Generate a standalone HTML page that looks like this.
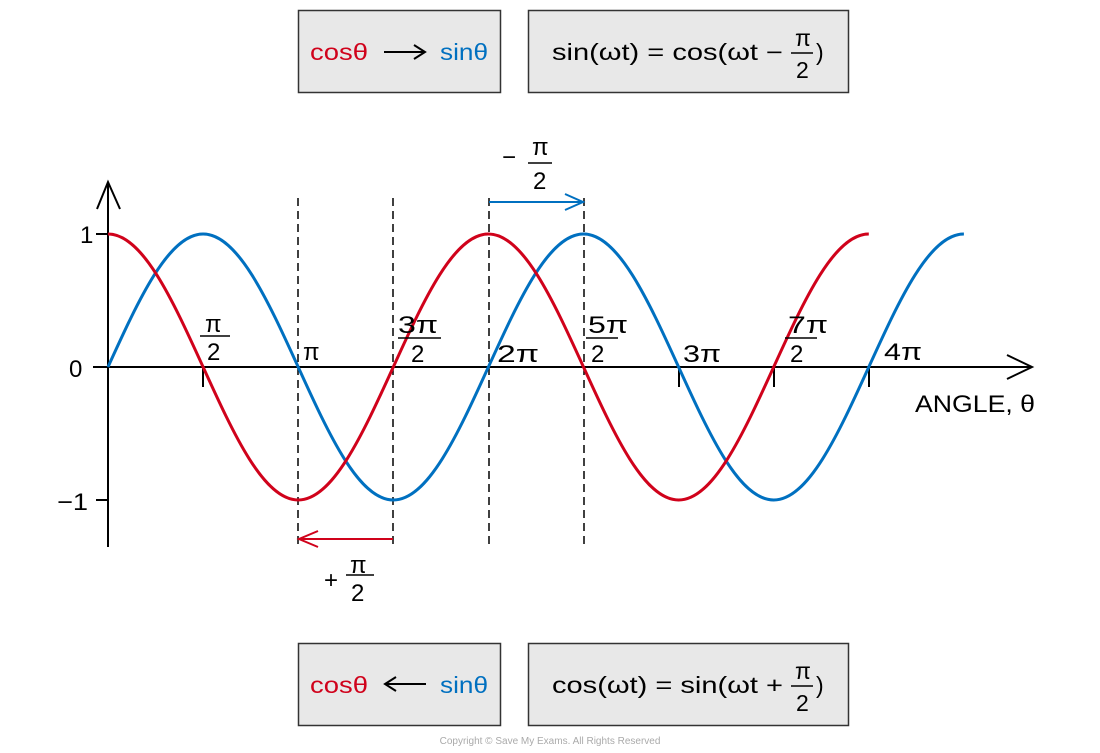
<!DOCTYPE html>
<html><head><meta charset="utf-8"><style>
body{margin:0;background:#fff}
svg{display:block;font-family:"Liberation Sans","DejaVu Sans",sans-serif}
</style></head><body>
<svg width="1100" height="753" viewBox="0 0 1100 753" xmlns="http://www.w3.org/2000/svg">
<g fill="#e8e8e8" stroke="#333" stroke-width="1.5">
<rect x="298.5" y="10.5" width="202" height="82"/>
<rect x="528.5" y="10.5" width="320" height="82"/>
<rect x="298.5" y="643.5" width="202" height="82"/>
<rect x="528.5" y="643.5" width="320" height="82"/>
</g>
<g font-size="23">
<text x="310" y="60" fill="#d0021b" textLength="58" lengthAdjust="spacingAndGlyphs">cosθ</text>
<text x="440" y="60" fill="#0070c0" textLength="48" lengthAdjust="spacingAndGlyphs">sinθ</text>
<line x1="384" y1="52" x2="424" y2="52" stroke="#000" stroke-width="2"/>
<path d="M414,45 L425,52 L414,59" fill="none" stroke="#000" stroke-width="2"/>
<text x="552" y="60" fill="#000" textLength="231" lengthAdjust="spacingAndGlyphs">sin(ωt) = cos(ωt −</text>
<text x="816" y="60" fill="#000">)</text>
<text x="795" y="46" fill="#000">π</text>
<line x1="791" y1="53" x2="813" y2="53" stroke="#000" stroke-width="1.5"/>
<text x="796" y="78" fill="#000">2</text>

<text x="310" y="693" fill="#d0021b" textLength="58" lengthAdjust="spacingAndGlyphs">cosθ</text>
<text x="440" y="693" fill="#0070c0" textLength="48" lengthAdjust="spacingAndGlyphs">sinθ</text>
<line x1="386" y1="684" x2="426" y2="684" stroke="#000" stroke-width="2"/>
<path d="M396,677 L385,684 L396,691" fill="none" stroke="#000" stroke-width="2"/>
<text x="552" y="693" fill="#000" textLength="231" lengthAdjust="spacingAndGlyphs">cos(ωt) = sin(ωt +</text>
<text x="816" y="693" fill="#000">)</text>
<text x="795" y="679" fill="#000">π</text>
<line x1="791" y1="686" x2="813" y2="686" stroke="#000" stroke-width="1.5"/>
<text x="796" y="711" fill="#000">2</text>
</g>
<g stroke="#000" stroke-width="2" fill="none">
<line x1="108" y1="182" x2="108" y2="547"/>
<path d="M97,209 L108,182 L120,209"/>
<line x1="93" y1="367" x2="1032" y2="367"/>
<path d="M1007,355 L1032,367 L1007,379"/>
<line x1="96" y1="234" x2="108" y2="234"/>
<line x1="96" y1="500" x2="108" y2="500"/>
<line x1="203" y1="367" x2="203" y2="387"/>
<line x1="679" y1="367" x2="679" y2="387"/>
<line x1="774" y1="367" x2="774" y2="387"/>
<line x1="869" y1="367" x2="869" y2="387"/>
</g>
<g stroke="#000" stroke-width="1.5" stroke-dasharray="8,5">
<line x1="298" y1="198" x2="298" y2="545"/>
<line x1="393" y1="198" x2="393" y2="545"/>
<line x1="489" y1="198" x2="489" y2="545"/>
<line x1="584" y1="198" x2="584" y2="545"/>
</g>
<path fill="none" stroke="#0070c0" stroke-width="3" d="M108,367 c31,-68.1 60.7,-133 95.1,-133 c34.4,0 64.1,64.9 95.1,133 c31,68.1 60.7,133 95.1,133 c34.4,0 64.1,-64.9 95.1,-133 c31,-68.1 60.7,-133 95.1,-133 c34.4,0 64.1,64.9 95.1,133 c31,68.1 60.7,133 95.1,133 c34.4,0 64.1,-64.9 95.1,-133 c31,-68.1 60.7,-133 95.1,-133"/>
<path fill="none" stroke="#d0021b" stroke-width="3" d="M108,234 c34.4,0 64.1,64.9 95.1,133 c31,68.1 60.7,133 95.1,133 c34.4,0 64.1,-64.9 95.1,-133 c31,-68.1 60.7,-133 95.1,-133 c34.4,0 64.1,64.9 95.1,133 c31,68.1 60.7,133 95.1,133 c34.4,0 64.1,-64.9 95.1,-133 c31,-68.1 60.7,-133 95.1,-133"/>
<g stroke="#d0021b" stroke-width="2" fill="none">
<line x1="298" y1="539" x2="393" y2="539"/>
<path d="M318,531 L299,539 L318,547"/>
</g>
<g stroke="#0070c0" stroke-width="2" fill="none">
<line x1="489" y1="202" x2="584" y2="202"/>
<path d="M565,194 L583,202 L565,210"/>
</g>
<g font-size="24" fill="#000">
<text x="80" y="243">1</text>
<text x="69" y="377">0</text>
<text x="57" y="510" textLength="31" lengthAdjust="spacingAndGlyphs">−1</text>
<text x="205" y="332">π</text>
<line x1="200" y1="336" x2="230" y2="336" stroke="#000" stroke-width="1.5"/>
<text x="207" y="360">2</text>
<text x="303" y="360">π</text>
<text x="398" y="333" textLength="40" lengthAdjust="spacingAndGlyphs">3π</text>
<line x1="398" y1="338" x2="441" y2="338" stroke="#000" stroke-width="1.5"/>
<text x="411" y="362">2</text>
<text x="497" y="362" textLength="42" lengthAdjust="spacingAndGlyphs">2π</text>
<text x="588" y="333" textLength="40" lengthAdjust="spacingAndGlyphs">5π</text>
<line x1="586" y1="338" x2="618" y2="338" stroke="#000" stroke-width="1.5"/>
<text x="591" y="362">2</text>
<text x="683" y="362" textLength="38" lengthAdjust="spacingAndGlyphs">3π</text>
<text x="788" y="333" textLength="40" lengthAdjust="spacingAndGlyphs">7π</text>
<line x1="785" y1="338" x2="817" y2="338" stroke="#000" stroke-width="1.5"/>
<text x="790" y="362">2</text>
<text x="884" y="360" textLength="38" lengthAdjust="spacingAndGlyphs">4π</text>
<text x="915" y="412" textLength="120" lengthAdjust="spacingAndGlyphs">ANGLE, θ</text>
<text x="502" y="165">−</text>
<text x="532" y="155">π</text>
<line x1="528" y1="163" x2="552" y2="163" stroke="#000" stroke-width="1.5"/>
<text x="533" y="189">2</text>
<text x="324" y="588">+</text>
<text x="350" y="573">π</text>
<line x1="346" y1="575" x2="374" y2="575" stroke="#000" stroke-width="1.5"/>
<text x="351" y="601">2</text>
</g>
<text x="550" y="744" font-size="10" fill="#aaa" text-anchor="middle">Copyright © Save My Exams. All Rights Reserved</text>
</svg>
</body></html>
